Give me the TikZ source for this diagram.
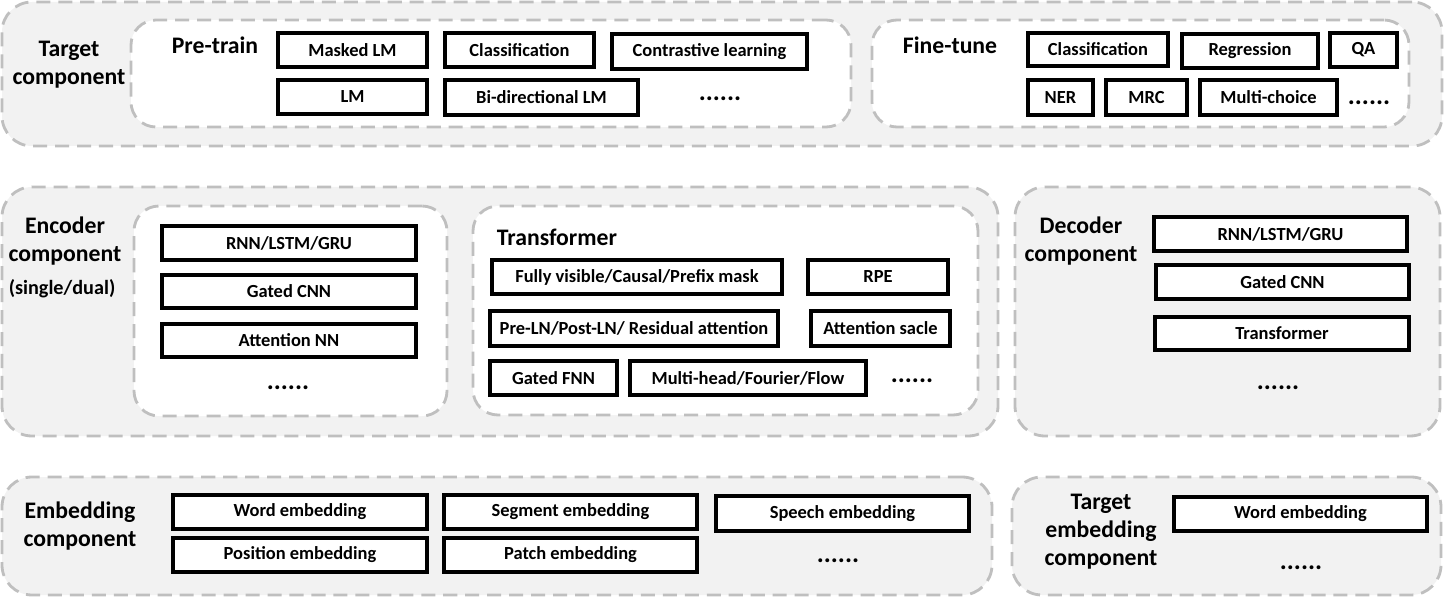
\documentclass[tikz,border=0pt]{standalone}
\usepackage{fontspec}
\setmainfont{Carlito}
\usetikzlibrary{fit}

\definecolor{dashgray}{RGB}{191,191,191}
\definecolor{regiongray}{RGB}{242,242,242}

\tikzset{
	region/.style={draw=dashgray, fill=regiongray, line width=1.6pt, dash pattern=on 8pt off 4.5pt, rounded corners=0.6cm, inner sep=0pt},
	subregion/.style={region, fill=white, rounded corners=0.5cm},
	blk/.style={draw=black, line width=2pt, fill=white, inner sep=0pt,
		label={[font=\fontsize{10.5}{12}\selectfont\bfseries, inner sep=0pt]center:#1}},
	lbl/.style={font=\fontsize{13.5}{16}\selectfont\bfseries, align=center, inner sep=0pt},
	more/.style={font=\fontsize{15}{15}\selectfont\bfseries, inner sep=0pt}
}

\begin{document}
\begin{tikzpicture}[x=0.02cm, y=-0.02cm]
		\useasboundingbox (0,0) rectangle (1445,598);
		
		% target component
		\node[region, fit={(2,2) (1442,146)}] (target) {};
		\node[subregion, fit={(131,20) (851,127)}] (pretrain) {};
		\node[subregion, fit={(872,20) (1409,127)}] (finetune) {};
		\node[lbl] (targetlbl) at (69,65) {Target\\component};
		\node[lbl] (pretrainlbl) at (215,45) {Pre-train};
		\node[lbl] (finetunelbl) at (950,45) {Fine-tune};
		
		\node[blk={Masked LM}, fit={(278,33) (427,67)}] (mlm) {};
		\node[blk={Classification}, fit={(445,33) (594,67)}] (cls) {};
		\node[blk={Contrastive learning}, fit={(612,34) (807,69)}] (contr) {};
		\node[blk={LM}, fit={(278,80) (427,114)}] (lm) {};
		\node[blk={Bi-directional LM}, fit={(445,80) (638,115)}] (bilm) {};
		\node[more] (ptdots) at (720,99) {......};
		
		\node[blk={Classification}, fit={(1028,33) (1168,66)}] (ftcls) {};
		\node[blk={Regression}, fit={(1182,34) (1318,68)}] (reg) {};
		\node[blk={QA}, fit={(1330,33) (1397,67)}] (qa) {};
		\node[blk={NER}, fit={(1028,80) (1093,115)}] (ner) {};
		\node[blk={MRC}, fit={(1106,80) (1187,115)}] (mrc) {};
		\node[blk={Multi-choice}, fit={(1200,80) (1337,115)}] (mc) {};
		\node[more] (ftdots) at (1369,103) {......};
		
		% encoder component
		\node[region, fit={(2,187) (998,436)}] (encoder) {};
		\node[subregion, fit={(134,206) (447,416)}] (encbase) {};
		\node[subregion, fit={(473,206) (978,415)}] (transf) {};
		\node[lbl] (encoderlbl) at (65,241) {Encoder\\component};
		\node[lbl, font=\fontsize{11.5}{13}\selectfont\bfseries] (duallbl) at (62,289) {(single/dual)};
		\node[lbl] (transflbl) at (557,237) {Transformer};
		
		\node[blk={RNN/LSTM/GRU}, fit={(162,226) (416,260)}] (rnn) {};
		\node[blk={Gated CNN}, fit={(162,275) (416,308)}] (gcnn) {};
		\node[blk={Attention NN}, fit={(162,324) (416,357)}] (attnn) {};
		\node[more] (encdots) at (288,388) {......};
		
		\node[blk={Fully visible/Causal/Prefix mask}, fit={(492,260) (782,294)}] (mask) {};
		\node[blk={RPE}, fit={(808,260) (948,294)}] (rpe) {};
		\node[blk={Pre-LN/Post-LN/ Residual attention}, fit={(490,311) (778,346)}] (ln) {};
		\node[blk={Attention sacle}, fit={(811,311) (950,346)}] (scale) {};
		\node[blk={Gated FNN}, fit={(490,361) (617,395)}] (gfnn) {};
		\node[blk={Multi-head/Fourier/Flow}, fit={(630,361) (866,395)}] (mhead) {};
		\node[more] (trdots) at (912,381) {......};
		
		% decoder component
		\node[region, fit={(1015,187) (1440,436)}] (decoder) {};
		\node[lbl] (decoderlbl) at (1081,241) {Decoder\\component};
		\node[blk={RNN/LSTM/GRU}, fit={(1154,217) (1407,251)}] (drnn) {};
		\node[blk={Gated CNN}, fit={(1156,265) (1409,299)}] (dgcnn) {};
		\node[blk={Transformer}, fit={(1155,317) (1409,350)}] (dtransf) {};
		\node[more] (decdots) at (1278,388) {......};
		
		% embedding component
		\node[region, fit={(2,477) (992,595)}] (embed) {};
		\node[lbl] (embedlbl) at (80,526) {Embedding\\component};
		\node[blk={Word embedding}, fit={(173,495) (427,529)}] (word) {};
		\node[blk={Position embedding}, fit={(173,538) (427,572)}] (pos) {};
		\node[blk={Segment embedding}, fit={(444,495) (697,529)}] (seg) {};
		\node[blk={Patch embedding}, fit={(444,538) (697,572)}] (patch) {};
		\node[blk={Speech embedding}, fit={(716,496) (969,531)}] (speech) {};
		\node[more] (embdots) at (838,561) {......};
		
		% target embedding component
		\node[region, fit={(1012,477) (1441,595)}] (tembed) {};
		\node[lbl] (tembedlbl) at (1101,532) {Target\\embedding\\component};
		\node[blk={Word embedding}, fit={(1174,497) (1427,531)}] (tword) {};
		\node[more] (tembdots) at (1301,568) {......};
\end{tikzpicture}
\end{document}
